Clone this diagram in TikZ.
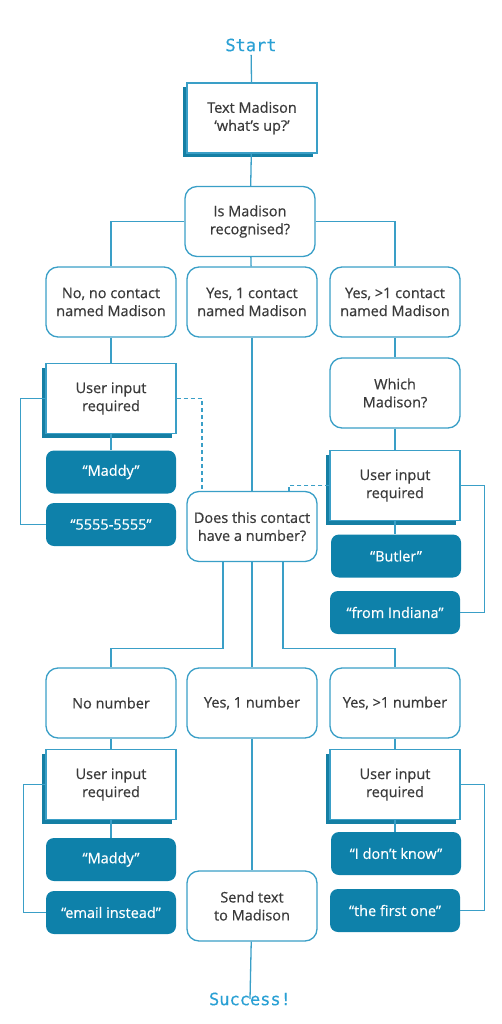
\documentclass[tikz,border=0pt]{standalone}
\usepackage{fontspec}
\setmainfont{Open Sans}
\newfontfamily\boxfont{Open Sans}[FakeBold=0.5]
\newfontfamily\pixfont{DejaVu Sans Mono}[FakeBold=0.3]
\usetikzlibrary{shadows}
\definecolor{linecol}{HTML}{3A9FC7}
\definecolor{fillcol}{HTML}{0E81AA}
\definecolor{shadecol}{HTML}{157FA4}
\definecolor{txtcol}{HTML}{3A3A3A}
\definecolor{endcol}{HTML}{2AA0D4}
\tikzset{
  decide/.style={draw=linecol,line width=1.3pt,fill=white,rounded corners=12pt,
    minimum width=130pt,minimum height=70pt,align=center,text=txtcol,
    font=\boxfont\fontsize{14.5}{18}\selectfont},
  askbox/.style={draw=linecol,line width=1.3pt,fill=white,
    minimum width=130pt,minimum height=70pt,align=center,text=txtcol,
    font=\boxfont\fontsize{14.5}{18}\selectfont,
    general shadow={shadow xshift=-4pt,shadow yshift=-4pt,fill=shadecol}},
  reply/.style={fill=fillcol,rounded corners=8pt,minimum width=130pt,
    minimum height=43pt,text=white,font=\boxfont\fontsize{14.5}{18}\selectfont},
  endtxt/.style={text=endcol,font=\pixfont\fontsize{17}{20}\selectfont},
  link/.style={draw=linecol,line width=1.3pt},
  hint/.style={draw=linecol,line width=1.3pt,dashed,dash pattern=on 4pt off 3pt}
}
\begin{document}
\begin{tikzpicture}[x=1pt,y=-1pt]
\useasboundingbox (0,0) rectangle (501,1024);

\node[endtxt] (start) at (251,45) {Start};
\node[askbox] (msg) at (252,118) {Text Madison\\‘what’s up?’};
\node[decide] (recog) at (250,221.5) {Is Madison\\recognised?};

\node[decide] (nocont) at (111,302) {No, no contact\\named Madison};
\node[decide] (onecont) at (252,302) {Yes, 1 contact\\named Madison};
\node[decide] (manycont) at (395,302) {Yes, >1 contact\\named Madison};

\node[askbox] (askleft) at (111,398.5) {User input\\required};
\node[reply] (maddy) at (111,472) {“Maddy”};
\node[reply] (fives) at (111,524.5) {“5555-5555”};

\node[decide] (which) at (395,393) {Which\\Madison?};
\node[askbox] (askright) at (395,485.5) {User input\\required};
\node[reply] (butler) at (396,556) {“Butler”};
\node[reply] (indiana) at (395,612.5) {“from Indiana”};

\node[decide] (hasnum) at (252,526.5) {Does this contact\\have a number?};

\node[decide] (nonum) at (111,703) {No number};
\node[decide] (onenum) at (252,703) {Yes, 1 number};
\node[decide] (manynum) at (395,703) {Yes, >1 number};

\node[askbox] (asklow) at (111,784.5) {User input\\required};
\node[reply] (maddylow) at (111,859.5) {“Maddy”};
\node[reply] (email) at (111,912.5) {“email instead”};

\node[askbox] (asklowr) at (395,784.5) {User input\\required};
\node[reply] (dunno) at (396,853.5) {“I don’t know”};
\node[reply] (firstone) at (395,910.5) {“the first one”};

\node[decide] (send) at (252,906) {Send text\\to Madison};
\node[endtxt] (success) at (250,999) {Success!};

\draw[link] (start) -- (msg);
\draw[link] (msg) -- (recog);
\draw[link] (recog.west) -| (nocont.north);
\draw[link] (recog.east) -| (manycont.north);
\draw[link] (recog) -- (onecont);

\draw[link] (nocont) -- (askleft);
\draw[link] (askleft) -- (maddy);
\draw[link] (askleft.west) -- ++(-25,0) |- (fives.west);
\draw[hint] (askleft.east) -| ([xshift=-50pt]hasnum.north);

\draw[link] (onecont) -- (hasnum);

\draw[link] (manycont) -- (which);
\draw[link] (which) -- (askright);
\draw[link] (askright.south) -- (butler.north -| askright.south);
\draw[link] (askright.east) -- ++(24,0) |- (indiana.east);
\draw[hint] (askright.west) -| ([xshift=37pt]hasnum.north);

\draw[link] ([xshift=-29pt]hasnum.south) -- ++(0,86) -| (nonum.north);
\draw[link] ([xshift=31pt]hasnum.south) -- ++(0,86) -| (manynum.north);
\draw[link] (hasnum) -- (onenum);

\draw[link] (nonum) -- (asklow);
\draw[link] (asklow) -- (maddylow);
\draw[link] (asklow.west) -- ++(-22,0) |- (email.west);

\draw[link] (manynum) -- (asklowr);
\draw[link] (asklowr.south) -- (dunno.north -| asklowr.south);
\draw[link] (asklowr.east) -- ++(24,0) |- (firstone.east);

\draw[link] (onenum) -- (send);
\draw[link] (send) -- ([yshift=-10pt]success.north);
\end{tikzpicture}
\end{document}
